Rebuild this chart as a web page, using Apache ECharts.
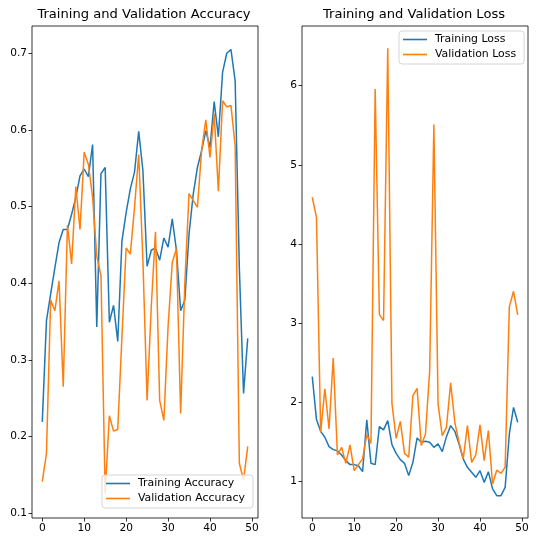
<!DOCTYPE html>
<html>
<head>
<meta charset="utf-8">
<script src="https://cdn.jsdelivr.net/npm/echarts@6/dist/echarts.min.js"></script>
<style>html,body{margin:0;padding:0;background:#fff}#c{width:544px;height:555px}</style>
</head>
<body>
<div id="c"></div>
<script>
var epochs = [];
for (var i = 0; i < 50; i++) epochs.push(i);
var trainAcc = [0.219,0.351,0.386,0.42,0.453,0.470,0.470,0.490,0.512,0.540,
  0.549,0.539,0.581,0.343,0.543,0.551,0.349,0.371,0.324,0.455,
  0.492,0.523,0.545,0.598,0.547,0.422,0.443,0.446,0.430,0.459,
  0.447,0.484,0.443,0.364,0.378,0.464,0.516,0.551,0.573,0.599,
  0.577,0.637,0.591,0.675,0.700,0.705,0.664,0.42,0.256,0.328];
var valAcc = [0.141,0.178,0.378,0.364,0.403,0.265,0.476,0.425,0.526,0.470,
  0.571,0.555,0.512,0.435,0.41,0.126,0.227,0.207,0.209,0.33,
  0.446,0.438,0.499,0.568,0.43,0.247,0.37,0.467,0.247,0.221,
  0.343,0.427,0.445,0.230,0.40,0.517,0.508,0.499,0.573,0.613,
  0.564,0.621,0.520,0.638,0.630,0.632,0.579,0.165,0.143,0.187];
var trainLoss = [2.326,1.783,1.635,1.56,1.442,1.404,1.391,1.337,1.265,1.215,
  1.215,1.20,1.126,1.779,1.231,1.215,1.694,1.653,1.77,1.467,
  1.357,1.278,1.231,1.076,1.244,1.552,1.497,1.509,1.497,1.433,
  1.476,1.379,1.568,1.707,1.635,1.476,1.287,1.181,1.118,1.055,
  1.139,0.991,1.126,0.908,0.823,0.823,0.928,1.602,1.938,1.749];
var valLoss = [4.59,4.337,1.622,2.171,1.665,2.562,1.337,1.433,1.231,1.463,
  1.139,1.215,1.287,1.593,1.484,5.958,3.109,3.033,6.47,1.989,
  1.547,1.761,1.357,1.307,2.086,2.178,1.455,1.602,2.401,5.508,
  1.981,1.581,1.686,2.246,1.749,1.497,1.287,1.707,1.244,1.337,
  1.716,1.265,1.644,0.971,1.147,1.105,1.181,3.21,3.403,3.105];
var xTicks = [0,10,20,30,40,50];
var accTicks = [0.1,0.2,0.3,0.4,0.5,0.6,0.7];
var lossTicks = [1,2,3,4,5,6];

function pairs(v){ return epochs.map(function(e,i){ return [e, v[i]]; }); }
var FONT = 'DejaVu Sans';
var BLUE = '#1f77b4', ORANGE = '#ff7f0e';
var TICK_FS = 10.6, LEG_FS = 10.9, TITLE_FS = 13.1;

function xAxis(idx){
  return {
    type:'value', gridIndex: idx, min:-2.45, max:51.45,
    axisLine:{show:false, onZero:false}, splitLine:{show:false},
    axisTick:{show:true, customValues:xTicks, length:3.5, inside:false, lineStyle:{color:'#000', width:0.8}},
    axisLabel:{customValues:xTicks, color:'#000', fontSize:TICK_FS, fontFamily:FONT, margin:5}
  };
}
function yAxis(idx, mn, mx, ticks, fmt){
  return {
    type:'value', gridIndex: idx, min:mn, max:mx,
    axisLine:{show:false, onZero:false}, splitLine:{show:false},
    axisTick:{show:true, customValues:ticks, length:3.5, lineStyle:{color:'#000', width:0.8}},
    axisLabel:{customValues:ticks, color:'#000', fontSize:TICK_FS, fontFamily:FONT, margin:5, formatter:fmt}
  };
}
function legend(names, left, top){
  return {
    data:names, orient:'vertical', left:left, top:top,
    icon:'rect', itemWidth:24, itemHeight:1.6, itemGap:4,
    padding:[3,8,4,4],
    backgroundColor:'rgba(255,255,255,0.8)', borderColor:'#d5d5d5', borderWidth:1, borderRadius:3,
    textStyle:{color:'#000', fontSize:LEG_FS, fontFamily:FONT, padding:[0,0,0,3]}
  };
}
function line(name, data, color, xi, yi){
  return {
    name:name, type:'line', data:pairs(data), xAxisIndex:xi, yAxisIndex:yi,
    symbol:'none', showSymbol:false, animation:false,
    lineStyle:{color:color, width:1.5}, itemStyle:{color:color}
  };
}

var chart = echarts.init(document.getElementById('c'), null, {renderer:'canvas'});
chart.setOption({
  animation:false,
  textStyle:{fontFamily:FONT},
  title:[
    {text:'Training and Validation Accuracy', left:144, top:8, padding:0, textAlign:'center',
     textStyle:{fontSize:TITLE_FS, fontWeight:'normal', color:'#000', fontFamily:FONT}},
    {text:'Training and Validation Loss', left:414, top:8, padding:0, textAlign:'center',
     textStyle:{fontSize:TITLE_FS, fontWeight:'normal', color:'#000', fontFamily:FONT}}
  ],
  grid:[
    {left:32, top:26, width:226, height:492, show:true, borderColor:'#000', borderWidth:0.8, backgroundColor:'transparent'},
    {left:302, top:26, width:226, height:492, show:true, borderColor:'#000', borderWidth:0.8, backgroundColor:'transparent'}
  ],
  xAxis:[xAxis(0), xAxis(1)],
  yAxis:[
    yAxis(0, 0.0936, 0.7356, accTicks, function(v){ return v.toFixed(1); }),
    yAxis(1, 0.541, 6.752, lossTicks, function(v){ return String(Math.round(v)); })
  ],
  legend:[
    legend(['Training Accuracy','Validation Accuracy'], 102, 475),
    legend(['Training Loss','Validation Loss'], 399, 31)
  ],
  series:[
    line('Training Accuracy', trainAcc, BLUE, 0, 0),
    line('Validation Accuracy', valAcc, ORANGE, 0, 0),
    line('Training Loss', trainLoss, BLUE, 1, 1),
    line('Validation Loss', valLoss, ORANGE, 1, 1)
  ]
});
</script>
</body>
</html>
